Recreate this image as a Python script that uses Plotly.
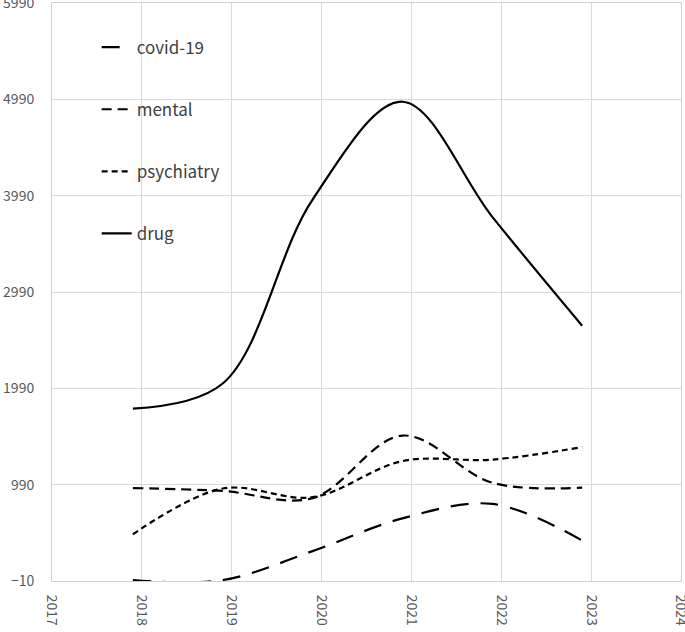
import plotly.graph_objects as go

# yearly points (sit a little left of each year gridline in the original)
years = [2017.9, 2018.9, 2019.9, 2020.9, 2021.9, 2022.9]

covid = [0, 0, 300, 640, 790, 410]
mental = [955, 925, 850, 1500, 1010, 960]
psychiatry = [475, 950, 860, 1235, 1250, 1380]
drug = [1780, 2040, 3950, 4965, 3770, 2640]

series = [
    ("covid-19", covid, "18px,12px"),
    ("mental", mental, "10px,6px"),
    ("psychiatry", psychiatry, "6px,4px"),
    ("drug", drug, "solid"),
]

FONT = "Noto Sans CJK JP"

fig = go.Figure()
for name, vals, dash in series:
    fig.add_trace(go.Scatter(
        x=years,
        y=vals,
        name=name,
        legendgroup=name,
        mode="lines",
        line=dict(color="black", width=2.2, dash=dash, shape="spline", smoothing=1.0),
    ))

fig.update_layout(
    width=685,
    height=632,
    margin=dict(l=52, r=4, t=3, b=51),
    paper_bgcolor="white",
    plot_bgcolor="white",
    font=dict(family=FONT, color="#595959", size=14),
    showlegend=True,
    legend=dict(
        x=0.071, y=0.954,
        xanchor="left", yanchor="top",
        bgcolor="rgba(0,0,0,0)",
        traceorder="grouped",
        tracegroupgap=37,
        font=dict(family=FONT, size=17, color="#404040"),
    ),
)

axis_style = dict(
    automargin=False,
    showgrid=True, gridcolor="#d9d9d9", gridwidth=1,
    showline=True, mirror=True, linecolor="#d0d0d0", linewidth=1,
    zeroline=False,
    ticks="",
    ticklabeloverflow="allow",
    tickfont=dict(family=FONT, size=14, color="#595959"),
)

fig.update_xaxes(
    range=[2017, 2024],
    tick0=2017, dtick=1,
    tickangle=90,
    ticklabelstandoff=10,
    **axis_style,
)
fig.update_yaxes(
    range=[-10, 5990],
    tick0=-10, dtick=1000,
    ticklabelstandoff=14,
    **axis_style,
)

# page has a default body margin that would push the chart off-window
fig.write_html(
    "out.html",
    config={"displayModeBar": False},
    post_script="document.body.style.margin='0';",
)
